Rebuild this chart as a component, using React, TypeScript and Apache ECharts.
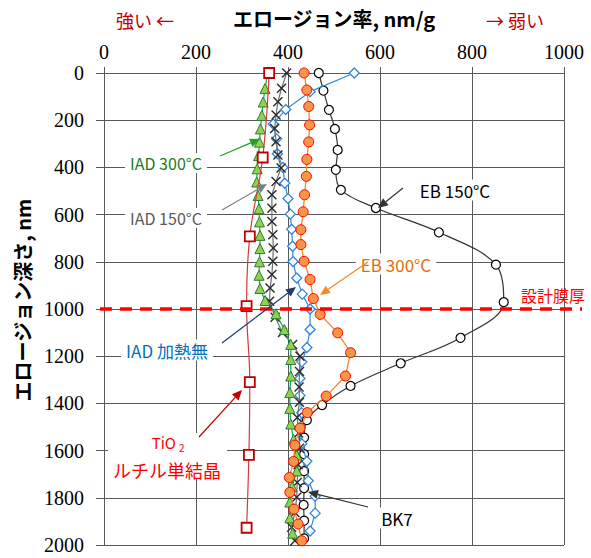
import React, { useEffect, useRef } from "react";
import * as echarts from "echarts";

// ---- axis ticks ----
const rateTicks = { min: 0, max: 1000, interval: 200 };
const depthTicks = { min: 0, max: 2000, interval: 200 };
const designThickness = 1000;

// ---- series data: [erosion rate nm/g, erosion depth nm] ----
const tio2Rutile = [
  [359, 0], [345, 358], [317, 692], [310, 988], [317, 1310], [315, 1618], [310, 1927],
];

const iad300 = [
  [356, 0], [350, 66], [346, 123], [343, 180], [340, 237], [338, 293], [336, 350], [333, 406],
  [332, 462], [335, 519], [337, 575], [338, 631], [339, 688], [339, 744], [338, 800], [337, 857],
  [339, 913], [350, 964], [374, 1020], [392, 1087], [406, 1150], [406, 1214], [406, 1284],
  [404, 1354], [404, 1421], [406, 1487], [412, 1553], [419, 1619], [419, 1686], [409, 1752],
  [404, 1818], [404, 1885], [410, 1950],
];

const iad150 = [
  [397, 0], [386, 65], [378, 122], [374, 178], [371, 235], [374, 291], [378, 347], [385, 403],
  [374, 460], [365, 516], [365, 573], [365, 629], [367, 685], [368, 742], [367, 798], [365, 854],
  [361, 911], [360, 967], [372, 1035], [388, 1100], [410, 1150], [426, 1200], [425, 1265],
  [424, 1330], [425, 1395], [420, 1460], [423, 1525], [425, 1590], [422, 1660], [420, 1735],
  [419, 1798], [415, 1862], [408, 1925], [415, 1982],
];

const iadNoHeat = [
  [544, 0], [448, 79], [395, 155], [368, 216], [375, 279], [377, 342], [389, 400], [393, 467],
  [400, 532], [405, 598], [408, 662], [410, 734], [411, 799], [419, 869], [431, 937], [448, 1000],
  [448, 1087], [441, 1163], [430, 1224], [426, 1294], [426, 1366], [430, 1440], [426, 1503],
  [430, 1571], [441, 1645], [444, 1728], [459, 1793], [459, 1865], [448, 1941],
];

const eb300 = [
  [435, 0], [441, 72], [445, 142], [447, 220], [445, 292], [441, 366], [440, 438], [436, 516],
  [433, 588], [428, 664], [428, 727], [435, 798], [448, 875], [455, 956], [470, 1023], [508, 1101],
  [536, 1185], [525, 1284], [483, 1369], [442, 1439], [426, 1505], [415, 1577], [412, 1646],
  [403, 1714], [404, 1777], [413, 1848], [422, 1911], [430, 1982],
];

const eb150 = [
  [467, 0], [477, 75], [489, 156], [502, 237], [508, 326], [504, 410], [515, 495], [591, 572],
  [728, 675], [852, 812], [869, 971], [775, 1122], [645, 1230], [536, 1326], [474, 1407],
  [441, 1471], [435, 1545], [435, 1615], [435, 1687], [435, 1759], [434, 1830], [435, 1897],
  [435, 1972],
];

const CJK = '"Noto Sans CJK JP", "Noto Sans", sans-serif';
const SERIF = '"Liberation Serif", "DejaVu Serif", serif';
const X_SYMBOL =
  "path://M0,1L1,0L5,4L9,0L10,1L6,5L10,9L9,10L5,6L1,10L0,9L4,5Z";

function arrow(x1: number, y1: number, x2: number, y2: number, color: string) {
  const a = Math.atan2(y2 - y1, x2 - x1);
  const L = 10;
  const W = 4.5;
  const c = Math.cos(a);
  const s = Math.sin(a);
  const bx = x2 - L * c;
  const by = y2 - L * s;
  return [
    {
      type: "line",
      z: 20,
      shape: { x1, y1, x2: bx, y2: by },
      style: { stroke: color, lineWidth: 1.2 },
    },
    {
      type: "polygon",
      z: 20,
      shape: {
        points: [
          [x2, y2],
          [bx + W * s, by - W * c],
          [bx - W * s, by + W * c],
        ],
      },
      style: { fill: color },
    },
  ];
}

function label(
  text: string,
  x: number,
  y: number,
  color: string,
  size: number,
  bg = true,
  extra: any = {}
) {
  return {
    type: "text",
    z: 19,
    x,
    y,
    style: {
      text,
      fill: color,
      fontSize: size,
      fontFamily: CJK,
      align: "center",
      verticalAlign: "middle",
      backgroundColor: bg ? "#ffffff" : undefined,
      padding: bg ? [2, 5] : 0,
      ...extra,
    },
  };
}

export default function App() {
  const ref = useRef<HTMLDivElement>(null);

  useEffect(() => {
    if (!ref.current) return;
    const chart = echarts.init(ref.current, undefined, { renderer: "svg" });

    const gridColor = "#595959";
    const plain = (v: number) => String(v);

    const option: any = {
      animation: false,
      backgroundColor: "#ffffff",
      grid: { left: 104, top: 73, right: 27, bottom: 13 },
      xAxis: {
        type: "value",
        position: "top",
        min: rateTicks.min,
        max: rateTicks.max,
        interval: rateTicks.interval,
        axisLine: { show: true, lineStyle: { color: gridColor, width: 1 } },
        axisTick: { show: true, inside: false, length: 6, lineStyle: { color: gridColor } },
        axisLabel: { color: "#000", fontSize: 20, fontFamily: SERIF, margin: 11, formatter: plain },
        splitLine: { show: true, lineStyle: { color: gridColor, width: 1 } },
      },
      yAxis: {
        type: "value",
        inverse: true,
        min: depthTicks.min,
        max: depthTicks.max,
        interval: depthTicks.interval,
        axisLine: { show: true, lineStyle: { color: gridColor, width: 1 } },
        axisTick: { show: true, inside: false, length: 8, lineStyle: { color: gridColor } },
        axisLabel: { color: "#000", fontSize: 20, fontFamily: SERIF, margin: 20, formatter: plain },
        splitLine: { show: true, lineStyle: { color: gridColor, width: 1 } },
      },
      series: [
        {
          name: "EB 150°C",
          type: "line",
          data: eb150,
          smooth: 0.35,
          symbol: "circle",
          symbolSize: 9,
          itemStyle: { color: "#ffffff", borderColor: "#000000", borderWidth: 1.2 },
          lineStyle: { color: "#333333", width: 1.2 },
          z: 3,
        },
        {
          name: "IAD 加熱無",
          type: "line",
          data: iadNoHeat,
          symbol: "diamond",
          symbolSize: 10,
          itemStyle: { color: "#ffffff", borderColor: "#2e86de", borderWidth: 1.3 },
          lineStyle: { color: "#2e8bd8", width: 1.2 },
          z: 4,
        },
        {
          name: "IAD 150°C",
          type: "line",
          data: iad150,
          symbol: X_SYMBOL,
          symbolSize: 10,
          itemStyle: { color: "#2a2a2a", borderWidth: 0 },
          lineStyle: { color: "#6f6f6f", width: 1.2 },
          z: 5,
        },
        {
          name: "IAD 300°C",
          type: "line",
          data: iad300.map((p, i) => (i === 0 ? { value: p, symbol: "none" } : p)),
          symbol: "triangle",
          symbolSize: 10,
          itemStyle: { color: "#92d050", borderColor: "#2e7d32", borderWidth: 1 },
          lineStyle: { color: "#00b050", width: 1.2 },
          z: 6,
        },
        {
          name: "EB 300°C",
          type: "line",
          data: eb300,
          symbol: "circle",
          symbolSize: 10,
          itemStyle: { color: "#f79646", borderColor: "#ff0000", borderWidth: 1 },
          lineStyle: { color: "#f08a24", width: 1.3 },
          z: 7,
        },
        {
          name: "TiO2 ルチル単結晶",
          type: "line",
          data: tio2Rutile,
          smooth: 0.4,
          symbol: "rect",
          symbolSize: 10,
          itemStyle: { color: "#ffffff", borderColor: "#c00000", borderWidth: 1.8 },
          lineStyle: { color: "#d43a3a", width: 1.2 },
          z: 8,
        },
      ],
    };

    chart.setOption(option);

    const yDesign = chart.convertToPixel({ yAxisIndex: 0 }, designThickness) as number;

    const graphics: any[] = [
      // top title and direction hints
      label("エロージョン率, nm/g", 334, 18, "#000000", 20, false, { fontWeight: "bold" }),
      label("強い ←", 145, 20, "#c00000", 18, false),
      label("→ 弱い", 515, 20, "#c00000", 18, false),
      // y axis name
      {
        type: "text",
        z: 19,
        x: 22,
        y: 300,
        rotation: Math.PI / 2,
        style: {
          text: "エロージョン深さ, nm",
          fill: "#000000",
          fontSize: 20,
          fontFamily: CJK,
          fontWeight: "bold",
          align: "center",
          verticalAlign: "middle",
        },
      },
      // design thickness dashed line
      {
        type: "line",
        z: 15,
        shape: { x1: 100, y1: yDesign, x2: 582, y2: yDesign },
        style: { stroke: "#ff0000", lineWidth: 3.5, lineDash: [12, 8] },
      },
      label("設計膜厚", 553, 295, "#ff0000", 16, false),
      // annotations
      label("IAD 300°C", 166, 163, "#1a7a1a", 16),
      ...arrow(220, 156, 260, 139, "#22a022"),
      label("IAD 150°C", 166, 218, "#595959", 16),
      ...arrow(222, 210, 267, 184, "#7f7f7f"),
      label("IAD 加熱無", 167, 350, "#0070c0", 17),
      ...arrow(222, 343, 296, 287, "#1f3a6e"),
      {
        type: "rect",
        z: 18,
        shape: { x: 108, y: 433, width: 119, height: 46 },
        style: { fill: "#ffffff" },
      },
      label("TiO", 176, 442, "#ff0000", 15, false, { align: "right" }),
      label("2", 179, 447, "#ff0000", 10, false, { align: "left" }),
      label("ルチル単結晶", 167, 470, "#ff0000", 18, false),
      ...arrow(199, 437, 242, 390, "#c00000"),
      label("EB 150°C", 455, 190, "#000000", 17),
      ...arrow(403, 188, 378, 208, "#333333"),
      label("EB 300°C", 396, 264, "#e46c0a", 17),
      ...arrow(368, 262, 320, 295, "#f08a24"),
      label("BK7", 397, 518, "#000000", 17),
      ...arrow(368, 507, 308, 492, "#333333"),
    ];

    chart.setOption({ graphic: graphics });

    return () => {
      chart.dispose();
    };
  }, []);

  return (
    <div
      ref={ref}
      style={{ position: "fixed", left: 0, top: 0, width: 591, height: 558, background: "#fff" }}
    />
  );
}
